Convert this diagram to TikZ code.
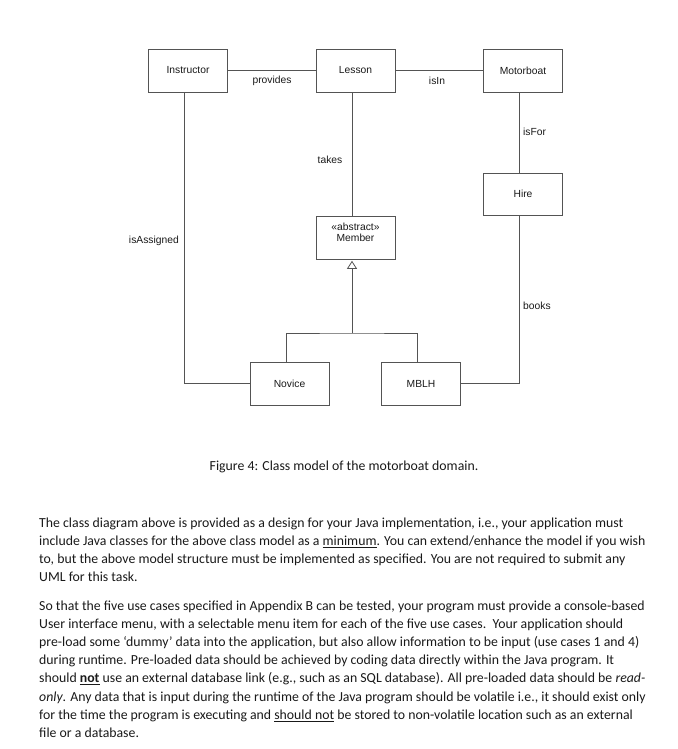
\documentclass[tikz,border=0pt]{standalone}
\usepackage{fontspec}
\setmainfont{Carlito}
\newfontfamily\arialf{Liberation Sans}
\usetikzlibrary{arrows.meta}
\definecolor{linec}{rgb}{0.33,0.33,0.33}
\definecolor{txtc}{rgb}{0.1,0.1,0.1}
\begin{document}
\begin{tikzpicture}[x=1pt,y=-1pt,
  cls/.style={draw=linec,line width=0.8pt,minimum width=79pt,minimum height=43pt,inner sep=0pt,font=\arialf\fontsize{10.3}{12}\selectfont,text=txtc,align=center},
  conn/.style={draw=linec,line width=0.8pt},
  lab/.style={inner sep=0pt,font=\arialf\fontsize{10.3}{12}\selectfont,text=txtc},
  para/.style={inner sep=0pt,anchor=base west,font=\fontsize{13.8}{16}\selectfont,text=txtc}]
\useasboundingbox (0,0) rectangle (677,749);
% classes
\node[cls] (instr) at (188,70.5) {Instructor};
\node[cls] (lesson) at (355.5,70.5) {Lesson};
\node[cls] (motor) at (523,70.5) {Motorboat};
\node[cls,minimum height=42pt] (hire) at (523,194) {Hire};
\node[cls,minimum height=43pt,anchor=north] (member) at (355.5,216) {};
\node[lab,anchor=center] (stereo) at (355.5,226.5) {«abstract»};
\node[lab,anchor=center] (mname) at (355.5,238) {Member};
\node[cls] (novice) at (289.5,383.5) {Novice};
\node[cls] (mblh) at (421,383.5) {MBLH};
% connectors
\draw[conn] (instr.east) -- (lesson.west);
\draw[conn] (lesson.east) -- (motor.west);
\draw[conn] ([xshift=-3.5pt]lesson.south) -- ([xshift=-3.5pt]member.north);
\draw[conn] ([xshift=-3.5pt]motor.south) -- ([xshift=-3.5pt]hire.north);
\draw[conn] ([xshift=-3.5pt]instr.south) |- (novice.west);
\draw[conn] (mblh.east) -| ([xshift=-3.5pt]hire.south);
\coordinate (gj) at (352,333);
\draw[conn,-{Triangle[open,length=8pt,width=10pt]}] (gj) -- ([xshift=-3.5pt,yshift=-1pt]member.south);
\draw[conn] ([xshift=-3.5pt]novice.north) |- (gj) -| ([xshift=-3.5pt]mblh.north);
% labels
\node[lab] (lprov) at (272,81) {provides};
\node[lab] (lisin) at (437,81) {isIn};
\node[lab,anchor=west] (lisfor) at (523,132) {isFor};
\node[lab] (ltakes) at (330,160) {takes};
\node[lab,anchor=east] (lisas) at (179,241) {isAssigned};
\node[lab,anchor=west] (lbooks) at (523,306) {books};
% caption
\node[para,anchor=base] (cap) at (344,470) {Figure 4: Class model of the motorboat domain.};
% paragraph 1
\node[para] (t1) at (39,527) {The class diagram above is provided as a design for your Java implementation, i.e., your application must};
\node[para] (t2) at (39,545.2) {include Java classes for the above class model as a \underline{minimum}. You can extend/enhance the model if you wish};
\node[para] (t3) at (39,563.4) {to, but the above model structure must be implemented as specified. You are not required to submit any};
\node[para] (t4) at (39,581.6) {UML for this task.};
% paragraph 2
\node[para] (t5) at (39,610) {So that the five use cases specified in Appendix B can be tested, your program must provide a console-based};
\node[para] (t6) at (39,628.2) {User interface menu, with a selectable menu item for each of the five use cases.\ \ Your application should};
\node[para] (t7) at (39,646.4) {pre-load some ‘dummy’ data into the application, but also allow information to be input (use cases 1 and 4)};
\node[para] (t8) at (39,664.6) {during runtime. Pre-loaded data should be achieved by coding data directly within the Java program. It};
\node[para] (t9) at (39,682.8) {should \underline{\textbf{not}} use an external database link (e.g., such as an SQL database). All pre-loaded data should be \textit{read-}};
\node[para] (t10) at (39,701) {\textit{only}. Any data that is input during the runtime of the Java program should be volatile i.e., it should exist only};
\node[para] (t11) at (39,719.2) {for the time the program is executing and \underline{should not} be stored to non-volatile location such as an external};
\node[para] (t12) at (39,737.4) {file or a database.};
\end{tikzpicture}
\end{document}
